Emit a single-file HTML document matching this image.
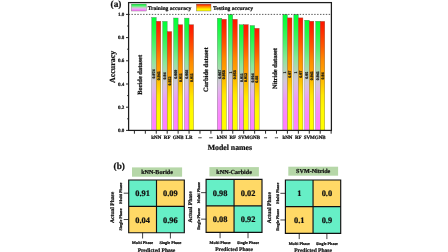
<!DOCTYPE html>
<html lang="en"><head><meta charset="utf-8"><title>Model accuracy figure</title>
<style>html,body{margin:0;padding:0;background:#fff;overflow:hidden}svg{filter:blur(0.35px)}body{width:448px;height:252px}svg text{text-rendering:geometricPrecision;stroke:#111;stroke-width:.22px;stroke-linejoin:round}</style>
</head><body>
<svg width="448" height="252" viewBox="0 0 448 252" style="display:block" font-family='"Liberation Serif", "DejaVu Serif", serif' font-weight="bold" fill="#111">
<defs><linearGradient id="gt" x1="0" y1="1" x2="0" y2="0"><stop offset="0" stop-color="#ff80ff"/><stop offset="0.11" stop-color="#fc84fc"/><stop offset="0.27" stop-color="#f098f8"/><stop offset="0.36" stop-color="#e1b4eb"/><stop offset="0.43" stop-color="#d0c8d8"/><stop offset="0.49" stop-color="#c0cdc4"/><stop offset="0.55" stop-color="#a8d8b0"/><stop offset="0.62" stop-color="#88e898"/><stop offset="0.75" stop-color="#50f070"/><stop offset="0.89" stop-color="#1efa46"/><stop offset="1" stop-color="#00ff38"/></linearGradient><linearGradient id="gs" x1="0" y1="1" x2="0" y2="0"><stop offset="0" stop-color="#ffff00"/><stop offset="0.19" stop-color="#fffa00"/><stop offset="0.32" stop-color="#ffe800"/><stop offset="0.44" stop-color="#ffc000"/><stop offset="0.55" stop-color="#ffa000"/><stop offset="0.65" stop-color="#ff8800"/><stop offset="0.77" stop-color="#ff5800"/><stop offset="0.92" stop-color="#ff2800"/><stop offset="1" stop-color="#ff1400"/></linearGradient></defs>
<rect width="448" height="252" fill="#fff"/>
<rect x="151.71" y="17.42" width="4.55" height="112.98" fill="url(#gt)" stroke="#556055" stroke-opacity="0.8" stroke-width="0.4"/>
<rect x="156.26" y="21.24" width="4.55" height="109.16" fill="url(#gs)" stroke="#6a5030" stroke-opacity="0.8" stroke-width="0.4"/>
<text transform="translate(155.23 73.91) rotate(-90)" font-size="4" text-anchor="middle" fill="#1a1a1a">0.974</text>
<text transform="translate(159.78 75.82) rotate(-90)" font-size="4" text-anchor="middle" fill="#1a1a1a">0.941</text>
<rect x="162.64" y="21.36" width="4.55" height="109.04" fill="url(#gt)" stroke="#556055" stroke-opacity="0.8" stroke-width="0.4"/>
<rect x="167.19" y="31.57" width="4.55" height="98.83" fill="url(#gs)" stroke="#6a5030" stroke-opacity="0.8" stroke-width="0.4"/>
<text transform="translate(166.16 75.88) rotate(-90)" font-size="4" text-anchor="middle" fill="#1a1a1a">0.94</text>
<text transform="translate(170.72 80.98) rotate(-90)" font-size="4" text-anchor="middle" fill="#1a1a1a">0.852</text>
<rect x="173.57" y="18.00" width="4.55" height="112.40" fill="url(#gt)" stroke="#556055" stroke-opacity="0.8" stroke-width="0.4"/>
<rect x="178.12" y="24.72" width="4.55" height="105.68" fill="url(#gs)" stroke="#6a5030" stroke-opacity="0.8" stroke-width="0.4"/>
<text transform="translate(177.09 74.20) rotate(-90)" font-size="4" text-anchor="middle" fill="#1a1a1a">0.969</text>
<text transform="translate(181.65 77.56) rotate(-90)" font-size="4" text-anchor="middle" fill="#1a1a1a">0.911</text>
<rect x="184.50" y="18.11" width="4.55" height="112.29" fill="url(#gt)" stroke="#556055" stroke-opacity="0.8" stroke-width="0.4"/>
<rect x="189.05" y="24.72" width="4.55" height="105.68" fill="url(#gs)" stroke="#6a5030" stroke-opacity="0.8" stroke-width="0.4"/>
<text transform="translate(188.03 74.26) rotate(-90)" font-size="4" text-anchor="middle" fill="#1a1a1a">0.968</text>
<text transform="translate(192.58 77.56) rotate(-90)" font-size="4" text-anchor="middle" fill="#1a1a1a">0.911</text>
<rect x="217.29" y="18.23" width="4.55" height="112.17" fill="url(#gt)" stroke="#556055" stroke-opacity="0.8" stroke-width="0.4"/>
<rect x="221.84" y="19.27" width="4.55" height="111.13" fill="url(#gs)" stroke="#6a5030" stroke-opacity="0.8" stroke-width="0.4"/>
<text transform="translate(220.81 74.31) rotate(-90)" font-size="4" text-anchor="middle" fill="#1a1a1a">0.967</text>
<text transform="translate(225.37 74.84) rotate(-90)" font-size="4" text-anchor="middle" fill="#1a1a1a">0.958</text>
<rect x="228.22" y="14.40" width="4.55" height="116.00" fill="url(#gt)" stroke="#556055" stroke-opacity="0.8" stroke-width="0.4"/>
<rect x="232.77" y="19.27" width="4.55" height="111.13" fill="url(#gs)" stroke="#6a5030" stroke-opacity="0.8" stroke-width="0.4"/>
<text transform="translate(231.75 72.40) rotate(-90)" font-size="4" text-anchor="middle" fill="#1a1a1a">1</text>
<text transform="translate(236.30 74.84) rotate(-90)" font-size="4" text-anchor="middle" fill="#1a1a1a">0.958</text>
<rect x="239.15" y="24.72" width="4.55" height="105.68" fill="url(#gt)" stroke="#556055" stroke-opacity="0.8" stroke-width="0.4"/>
<rect x="243.70" y="24.61" width="4.55" height="105.79" fill="url(#gs)" stroke="#6a5030" stroke-opacity="0.8" stroke-width="0.4"/>
<text transform="translate(242.67 77.56) rotate(-90)" font-size="4" text-anchor="middle" fill="#1a1a1a">0.911</text>
<text transform="translate(247.22 77.50) rotate(-90)" font-size="4" text-anchor="middle" fill="#1a1a1a">0.912</text>
<rect x="250.08" y="25.54" width="4.55" height="104.86" fill="url(#gt)" stroke="#556055" stroke-opacity="0.8" stroke-width="0.4"/>
<rect x="254.63" y="28.32" width="4.55" height="102.08" fill="url(#gs)" stroke="#6a5030" stroke-opacity="0.8" stroke-width="0.4"/>
<text transform="translate(253.60 77.97) rotate(-90)" font-size="4" text-anchor="middle" fill="#1a1a1a">0.904</text>
<text transform="translate(258.15 79.36) rotate(-90)" font-size="4" text-anchor="middle" fill="#1a1a1a">0.88</text>
<rect x="282.87" y="14.40" width="4.55" height="116.00" fill="url(#gt)" stroke="#556055" stroke-opacity="0.8" stroke-width="0.4"/>
<rect x="287.42" y="17.88" width="4.55" height="112.52" fill="url(#gs)" stroke="#6a5030" stroke-opacity="0.8" stroke-width="0.4"/>
<text transform="translate(286.39 72.40) rotate(-90)" font-size="4" text-anchor="middle" fill="#1a1a1a">1</text>
<text transform="translate(290.94 74.14) rotate(-90)" font-size="4" text-anchor="middle" fill="#1a1a1a">0.97</text>
<rect x="293.80" y="14.40" width="4.55" height="116.00" fill="url(#gt)" stroke="#556055" stroke-opacity="0.8" stroke-width="0.4"/>
<rect x="298.35" y="17.88" width="4.55" height="112.52" fill="url(#gs)" stroke="#6a5030" stroke-opacity="0.8" stroke-width="0.4"/>
<text transform="translate(297.33 72.40) rotate(-90)" font-size="4" text-anchor="middle" fill="#1a1a1a">1</text>
<text transform="translate(301.88 74.14) rotate(-90)" font-size="4" text-anchor="middle" fill="#1a1a1a">0.97</text>
<rect x="304.73" y="20.20" width="4.55" height="110.20" fill="url(#gt)" stroke="#556055" stroke-opacity="0.8" stroke-width="0.4"/>
<rect x="309.28" y="21.24" width="4.55" height="109.16" fill="url(#gs)" stroke="#6a5030" stroke-opacity="0.8" stroke-width="0.4"/>
<text transform="translate(308.25 75.30) rotate(-90)" font-size="4" text-anchor="middle" fill="#1a1a1a">0.95</text>
<text transform="translate(312.80 75.82) rotate(-90)" font-size="4" text-anchor="middle" fill="#1a1a1a">0.941</text>
<rect x="315.66" y="21.24" width="4.55" height="109.16" fill="url(#gt)" stroke="#556055" stroke-opacity="0.8" stroke-width="0.4"/>
<rect x="320.21" y="21.36" width="4.55" height="109.04" fill="url(#gs)" stroke="#6a5030" stroke-opacity="0.8" stroke-width="0.4"/>
<text transform="translate(319.19 75.82) rotate(-90)" font-size="4" text-anchor="middle" fill="#1a1a1a">0.941</text>
<text transform="translate(323.74 75.88) rotate(-90)" font-size="4" text-anchor="middle" fill="#1a1a1a">0.94</text>
<line x1="128.6" y1="14.4" x2="331.4" y2="14.4" stroke="#333" stroke-width="0.8" stroke-dasharray="1.45 1.45"/>
<rect x="128.6" y="2.6" width="202.80" height="127.80" fill="none" stroke="#1c1c1c" stroke-width="1.25"/>
<line x1="126.0" y1="130.40" x2="128.6" y2="130.40" stroke="#1c1c1c" stroke-width="0.95"/>
<text x="124.30" y="132.00" font-size="5" text-anchor="end">0.0</text>
<line x1="127.19999999999999" y1="118.80" x2="128.6" y2="118.80" stroke="#1c1c1c" stroke-width="0.95"/>
<line x1="126.0" y1="107.20" x2="128.6" y2="107.20" stroke="#1c1c1c" stroke-width="0.95"/>
<text x="124.30" y="108.80" font-size="5" text-anchor="end">0.2</text>
<line x1="127.19999999999999" y1="95.60" x2="128.6" y2="95.60" stroke="#1c1c1c" stroke-width="0.95"/>
<line x1="126.0" y1="84.00" x2="128.6" y2="84.00" stroke="#1c1c1c" stroke-width="0.95"/>
<text x="124.30" y="85.60" font-size="5" text-anchor="end">0.4</text>
<line x1="127.19999999999999" y1="72.40" x2="128.6" y2="72.40" stroke="#1c1c1c" stroke-width="0.95"/>
<line x1="126.0" y1="60.80" x2="128.6" y2="60.80" stroke="#1c1c1c" stroke-width="0.95"/>
<text x="124.30" y="62.40" font-size="5" text-anchor="end">0.6</text>
<line x1="127.19999999999999" y1="49.20" x2="128.6" y2="49.20" stroke="#1c1c1c" stroke-width="0.95"/>
<line x1="126.0" y1="37.60" x2="128.6" y2="37.60" stroke="#1c1c1c" stroke-width="0.95"/>
<text x="124.30" y="39.20" font-size="5" text-anchor="end">0.8</text>
<line x1="127.19999999999999" y1="26.00" x2="128.6" y2="26.00" stroke="#1c1c1c" stroke-width="0.95"/>
<line x1="126.0" y1="14.40" x2="128.6" y2="14.40" stroke="#1c1c1c" stroke-width="0.95"/>
<text x="124.30" y="16.00" font-size="5" text-anchor="end">1.0</text>
<line x1="134.40" y1="130.4" x2="134.40" y2="133.70000000000002" stroke="#1c1c1c" stroke-width="0.95"/>
<line x1="145.33" y1="130.4" x2="145.33" y2="133.70000000000002" stroke="#1c1c1c" stroke-width="0.95"/>
<line x1="156.26" y1="130.4" x2="156.26" y2="133.70000000000002" stroke="#1c1c1c" stroke-width="0.95"/>
<text x="156.26" y="138.7" font-size="5" text-anchor="middle">kNN</text>
<line x1="167.19" y1="130.4" x2="167.19" y2="133.70000000000002" stroke="#1c1c1c" stroke-width="0.95"/>
<text x="167.19" y="138.7" font-size="5" text-anchor="middle">RF</text>
<line x1="178.12" y1="130.4" x2="178.12" y2="133.70000000000002" stroke="#1c1c1c" stroke-width="0.95"/>
<text x="178.12" y="138.7" font-size="5" text-anchor="middle">GNB</text>
<line x1="189.05" y1="130.4" x2="189.05" y2="133.70000000000002" stroke="#1c1c1c" stroke-width="0.95"/>
<text x="189.05" y="138.7" font-size="5" text-anchor="middle">LR</text>
<line x1="199.98" y1="130.4" x2="199.98" y2="133.70000000000002" stroke="#1c1c1c" stroke-width="0.95"/>
<text x="199.98" y="138.7" font-size="5" text-anchor="middle">--</text>
<line x1="210.91" y1="130.4" x2="210.91" y2="133.70000000000002" stroke="#1c1c1c" stroke-width="0.95"/>
<text x="210.91" y="138.7" font-size="5" text-anchor="middle">--</text>
<line x1="221.84" y1="130.4" x2="221.84" y2="133.70000000000002" stroke="#1c1c1c" stroke-width="0.95"/>
<text x="221.84" y="138.7" font-size="5" text-anchor="middle">kNN</text>
<line x1="232.77" y1="130.4" x2="232.77" y2="133.70000000000002" stroke="#1c1c1c" stroke-width="0.95"/>
<text x="232.77" y="138.7" font-size="5" text-anchor="middle">RF</text>
<line x1="243.70" y1="130.4" x2="243.70" y2="133.70000000000002" stroke="#1c1c1c" stroke-width="0.95"/>
<text x="243.70" y="138.7" font-size="5" text-anchor="middle">SVM</text>
<line x1="254.63" y1="130.4" x2="254.63" y2="133.70000000000002" stroke="#1c1c1c" stroke-width="0.95"/>
<text x="254.63" y="138.7" font-size="5" text-anchor="middle">GNB</text>
<line x1="265.56" y1="130.4" x2="265.56" y2="133.70000000000002" stroke="#1c1c1c" stroke-width="0.95"/>
<text x="265.56" y="138.7" font-size="5" text-anchor="middle">--</text>
<line x1="276.49" y1="130.4" x2="276.49" y2="133.70000000000002" stroke="#1c1c1c" stroke-width="0.95"/>
<text x="276.49" y="138.7" font-size="5" text-anchor="middle">--</text>
<line x1="287.42" y1="130.4" x2="287.42" y2="133.70000000000002" stroke="#1c1c1c" stroke-width="0.95"/>
<text x="287.42" y="138.7" font-size="5" text-anchor="middle">kNN</text>
<line x1="298.35" y1="130.4" x2="298.35" y2="133.70000000000002" stroke="#1c1c1c" stroke-width="0.95"/>
<text x="298.35" y="138.7" font-size="5" text-anchor="middle">RF</text>
<line x1="309.28" y1="130.4" x2="309.28" y2="133.70000000000002" stroke="#1c1c1c" stroke-width="0.95"/>
<text x="309.28" y="138.7" font-size="5" text-anchor="middle">SVM</text>
<line x1="320.21" y1="130.4" x2="320.21" y2="133.70000000000002" stroke="#1c1c1c" stroke-width="0.95"/>
<text x="320.21" y="138.7" font-size="5" text-anchor="middle">GNB</text>
<line x1="331.14" y1="130.4" x2="331.14" y2="133.70000000000002" stroke="#1c1c1c" stroke-width="0.95"/>
<text x="229.9" y="149.7" font-size="7.8" text-anchor="middle">Model names</text>
<text transform="translate(115.3 66.9) rotate(-90)" font-size="7.9" text-anchor="middle">Accuracy</text>
<text transform="translate(141.5 74.9) rotate(-90)" font-size="6.45" text-anchor="middle">Boride dataset</text>
<text transform="translate(208.2 69.7) rotate(-90)" font-size="6.55" text-anchor="middle">Carbide dataset</text>
<text transform="translate(276.7 68.5) rotate(-90)" font-size="6.45" text-anchor="middle">Nitride dataset</text>
<text x="110.6" y="7.3" font-size="9.3">(a)</text>
<text x="113.6" y="168.6" font-size="9.3">(b)</text>
<rect x="131.5" y="4.1" width="14.7" height="6.9" fill="url(#gt)" stroke="#555" stroke-width="0.35"/>
<text x="147.7" y="10" font-size="5.6">Training accuracy</text>
<rect x="196.4" y="4.1" width="14.6" height="6.9" fill="url(#gs)" stroke="#555" stroke-width="0.35"/>
<text x="213.1" y="10" font-size="5.6">Testing accuracy</text>
<rect x="132.0" y="167.4" width="50.10" height="9.30" fill="#b6d7a8"/>
<text x="157.05" y="174.10" font-size="6.1" text-anchor="middle">kNN-Boride</text>
<rect x="128.7" y="180.0" width="27.80" height="26.35" fill="#66efc6"/>
<rect x="156.5" y="180.0" width="27.80" height="26.35" fill="#ffd966"/>
<rect x="128.7" y="206.35" width="27.80" height="26.35" fill="#ffd966"/>
<rect x="156.5" y="206.35" width="27.80" height="26.35" fill="#66efc6"/>
<path d="M128.7 180.0H184.3V232.7H128.7ZM156.5 180.0V232.7M128.7 206.35H184.3" fill="none" stroke="#111" stroke-width="1.15"/>
<text x="142.60" y="196.28" font-size="8.4" text-anchor="middle">0.91</text>
<text x="170.40" y="196.28" font-size="8.4" text-anchor="middle">0.09</text>
<text x="142.60" y="222.62" font-size="8.4" text-anchor="middle">0.04</text>
<text x="170.40" y="222.62" font-size="8.4" text-anchor="middle">0.96</text>
<path d="M123.69999999999999 193.18H128.7M123.69999999999999 219.52H128.7M142.60 232.7V238.5M170.40 232.7V238.5" fill="none" stroke="#111" stroke-width="0.8"/>
<text x="142.60" y="243.90" font-size="4.1" text-anchor="middle">Multi Phase</text>
<text x="170.40" y="243.90" font-size="4.1" text-anchor="middle">Single Phase</text>
<text x="156.50" y="251.60" font-size="5.5" text-anchor="middle">Predicted Phase</text>
<text transform="translate(122.10 193.18) rotate(-90)" font-size="4.1" text-anchor="middle">Multi Phase</text>
<text transform="translate(122.10 219.52) rotate(-90)" font-size="4.1" text-anchor="middle">Single Phase</text>
<text transform="translate(114.20 207.35) rotate(-90)" font-size="5.6" text-anchor="middle">Actual Phase</text>
<rect x="209.4" y="167.1" width="49.50" height="9.30" fill="#b6d7a8"/>
<text x="234.15" y="173.80" font-size="6.1" text-anchor="middle">kNN-Carbide</text>
<rect x="206.1" y="179.4" width="27.95" height="26.50" fill="#66efc6"/>
<rect x="234.05" y="179.4" width="27.95" height="26.50" fill="#ffd966"/>
<rect x="206.1" y="205.9" width="27.95" height="26.50" fill="#ffd966"/>
<rect x="234.05" y="205.9" width="27.95" height="26.50" fill="#66efc6"/>
<path d="M206.1 179.4H262.0V232.4H206.1ZM234.05 179.4V232.4M206.1 205.9H262.0" fill="none" stroke="#111" stroke-width="1.15"/>
<text x="220.07" y="195.75" font-size="8.4" text-anchor="middle">0.98</text>
<text x="248.03" y="195.75" font-size="8.4" text-anchor="middle">0.02</text>
<text x="220.07" y="222.25" font-size="8.4" text-anchor="middle">0.08</text>
<text x="248.03" y="222.25" font-size="8.4" text-anchor="middle">0.92</text>
<path d="M201.1 192.65H206.1M201.1 219.15H206.1M220.07 232.4V238.20000000000002M248.03 232.4V238.20000000000002" fill="none" stroke="#111" stroke-width="0.8"/>
<text x="220.07" y="243.60" font-size="4.1" text-anchor="middle">Multi Phase</text>
<text x="248.03" y="243.60" font-size="4.1" text-anchor="middle">Single Phase</text>
<text x="234.05" y="251.30" font-size="5.5" text-anchor="middle">Predicted Phase</text>
<text transform="translate(199.50 192.65) rotate(-90)" font-size="4.1" text-anchor="middle">Multi Phase</text>
<text transform="translate(199.50 219.15) rotate(-90)" font-size="4.1" text-anchor="middle">Single Phase</text>
<text transform="translate(191.60 206.90) rotate(-90)" font-size="5.6" text-anchor="middle">Actual Phase</text>
<rect x="288.3" y="166.7" width="49.80" height="9.00" fill="#b6d7a8"/>
<text x="313.20" y="173.10" font-size="6.1" text-anchor="middle">SVM-Nitride</text>
<rect x="285.4" y="180.0" width="27.65" height="26.65" fill="#66efc6"/>
<rect x="313.04999999999995" y="180.0" width="27.65" height="26.65" fill="#ffd966"/>
<rect x="285.4" y="206.65" width="27.65" height="26.65" fill="#ffd966"/>
<rect x="313.04999999999995" y="206.65" width="27.65" height="26.65" fill="#66efc6"/>
<path d="M285.4 180.0H340.7V233.3H285.4ZM313.04999999999995 180.0V233.3M285.4 206.65H340.7" fill="none" stroke="#111" stroke-width="1.15"/>
<text x="299.22" y="196.42" font-size="8.4" text-anchor="middle">1</text>
<text x="326.88" y="196.42" font-size="8.4" text-anchor="middle">0.0</text>
<text x="299.22" y="223.08" font-size="8.4" text-anchor="middle">0.1</text>
<text x="326.88" y="223.08" font-size="8.4" text-anchor="middle">0.9</text>
<path d="M280.4 193.32H285.4M280.4 219.98H285.4M299.22 233.3V239.10000000000002M326.88 233.3V239.10000000000002" fill="none" stroke="#111" stroke-width="0.8"/>
<text x="299.22" y="244.50" font-size="4.1" text-anchor="middle">Multi Phase</text>
<text x="326.88" y="244.50" font-size="4.1" text-anchor="middle">Single Phase</text>
<text x="313.05" y="252.20" font-size="5.5" text-anchor="middle">Predicted Phase</text>
<text transform="translate(278.80 193.32) rotate(-90)" font-size="4.1" text-anchor="middle">Multi Phase</text>
<text transform="translate(278.80 219.98) rotate(-90)" font-size="4.1" text-anchor="middle">Single Phase</text>
<text transform="translate(270.90 207.65) rotate(-90)" font-size="5.6" text-anchor="middle">Actual Phase</text>
</svg>
</body></html>
